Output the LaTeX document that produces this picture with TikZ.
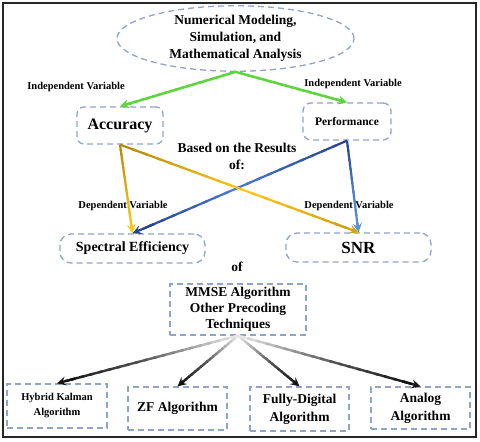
\documentclass[tikz,border=0pt]{standalone}
\usepackage{fontspec}
\setmainfont{Liberation Serif}
\usetikzlibrary{shapes.geometric,arrows.meta,calc}
\definecolor{dashblue}{HTML}{8FA4C9}
\definecolor{grn}{HTML}{5CD43C}
\definecolor{goldD}{HTML}{B38B0F}
\definecolor{goldM}{HTML}{E3AE12}
\definecolor{goldL}{HTML}{FFC716}
\definecolor{goldT}{HTML}{D2A214}
\definecolor{blueD}{HTML}{26448F}
\definecolor{blueM}{HTML}{4B7BD2}
\definecolor{blueL}{HTML}{5C8EDC}
\definecolor{greyS}{HTML}{E6E6E6}
\definecolor{greyM}{HTML}{555555}
\definecolor{blk}{HTML}{151515}
% gradient connector: from, to, colour at start, middle, end, width
\newcommand\gradconn[6]{%
  \foreach \k in {0,...,9}{%
    \pgfmathsetmacro\gxa{\k/20}\pgfmathsetmacro\gxb{(\k+1.4)/20}%
    \pgfmathtruncatemacro\gxp{100-\k*10}%
    \draw[line width=#6,draw={#3!\gxp!#4}] ($(#1)!\gxa!(#2)$) -- ($(#1)!\gxb!(#2)$);}%
  \foreach \k in {0,...,8}{%
    \pgfmathsetmacro\gxa{0.5+\k/20}\pgfmathsetmacro\gxb{min(0.5+(\k+1.4)/20,0.95)}%
    \pgfmathtruncatemacro\gxp{\k*12}%
    \draw[line width=#6,draw={#5!\gxp!#4}] ($(#1)!\gxa!(#2)$) -- ($(#1)!\gxb!(#2)$);}%
  \draw[line width=#6,draw=#5,-{Stealth[length=9pt,width=9pt,inset=3.5pt]}] ($(#1)!0.9!(#2)$) -- (#2);%
}
\begin{document}
\begin{tikzpicture}[x=1pt,y=-1pt,
  dbox/.style={draw=dashblue, line width=1.3pt, dash pattern=on 6pt off 4pt,
    inner sep=0pt, align=center},
  lbl/.style={inner sep=0pt, align=center},
  fA/.style={font=\fontsize{13.5}{17}\selectfont\bfseries},
  fS/.style={font=\fontsize{10.5}{12}\selectfont\bfseries},
]
\useasboundingbox (0,0) rectangle (480,442);
\fill[white] (0,0) rectangle (480,442);
\draw[line width=1.6pt, draw=black!85] (3,3) rectangle (476,437);

% nodes
\node[dbox, ellipse, minimum width=237pt, minimum height=63pt, fA] (top) at (235.5,38.5)
  {Numerical Modeling,\\Simulation, and\\Mathematical Analysis};
\node[dbox, rounded corners=7pt, minimum width=86pt, minimum height=37pt,
  font=\fontsize{16}{19}\selectfont\bfseries] (acc) at (120,125.5) {Accuracy};
\node[dbox, rounded corners=8pt, minimum width=88pt, minimum height=37pt,
  font=\fontsize{11.5}{14}\selectfont\bfseries] (perf) at (347,121.5) {Performance};
\node[dbox, rounded corners=11pt, minimum width=145pt, minimum height=29pt,
  font=\fontsize{14}{17}\selectfont\bfseries] (se) at (132.5,248.5) {Spectral Efficiency};
\node[dbox, rounded corners=11pt, minimum width=145pt, minimum height=29pt,
  font=\fontsize{17}{20}\selectfont\bfseries] (snr) at (358.5,247.5) {SNR};
\node[dbox, minimum width=136pt, minimum height=51pt,
  font=\fontsize{13.5}{16}\selectfont\bfseries] (mmse) at (238,309.5)
  {MMSE Algorithm\\Other Precoding\\Techniques};
\node[dbox, minimum width=100pt, minimum height=44pt,
  font=\fontsize{10.5}{15}\selectfont\bfseries] (hk) at (57,406) {Hybrid Kalman\\Algorithm};
\node[dbox, minimum width=99pt, minimum height=43pt, fA] (zf) at (177.5,408.5) {ZF Algorithm};
\node[dbox, minimum width=99pt, minimum height=44pt,
  font=\fontsize{13.5}{18}\selectfont\bfseries] (fd) at (299.5,409) {Fully-Digital\\Algorithm};
\node[dbox, minimum width=99pt, minimum height=42pt,
  font=\fontsize{13.5}{18}\selectfont\bfseries] (an) at (420.5,408) {Analog\\Algorithm};

% labels
\node[lbl, fS] (iv1) at (76,87) {Independent Variable};
\node[lbl, fS] (iv2) at (353,84) {Independent Variable};
\node[lbl, fA] (based) at (237,156.5) {Based on the Results\\of:};
\node[lbl, fS] (dv1) at (123,206) {Dependent Variable};
\node[lbl, fS] (dv2) at (349,206) {Dependent Variable};
\node[lbl, fA] (of) at (237,267) {of};

% connectors
\gradconn{top.south}{acc.north}{grn}{grn}{grn}{2.4pt}
\gradconn{top.south}{perf.north}{grn}{grn}{grn}{2.4pt}
\gradconn{acc.south}{se.north}{goldD}{goldM}{goldL}{2.2pt}
\gradconn{perf.south}{se.north}{blueD}{blueM}{blueD}{2.2pt}
\gradconn{acc.south}{snr.north}{goldD}{goldL}{goldT}{2.2pt}
\gradconn{perf.south}{snr.north}{blueD}{blueM}{blueL}{2.2pt}
\gradconn{mmse.south}{hk.north}{greyS}{greyM}{blk}{2.4pt}
\gradconn{mmse.south}{zf.north}{greyS}{greyM}{blk}{2.4pt}
\gradconn{mmse.south}{fd.north}{greyS}{greyM}{blk}{2.4pt}
\gradconn{mmse.south}{an.north}{greyS}{greyM}{blk}{2.4pt}
\end{tikzpicture}
\end{document}
